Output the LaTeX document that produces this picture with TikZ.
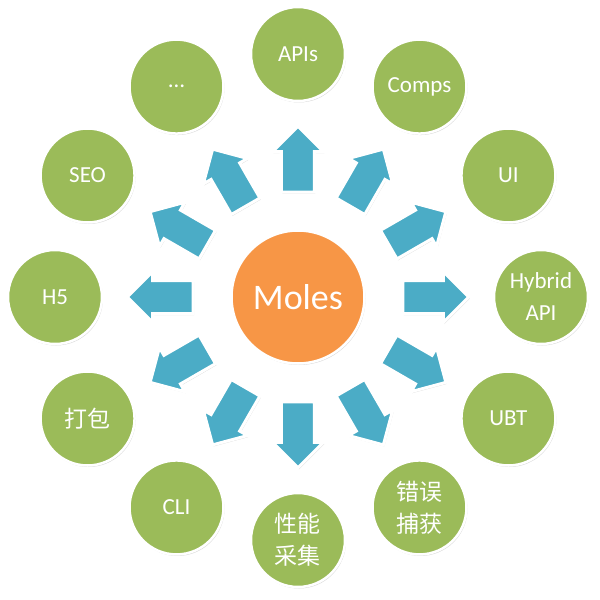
\documentclass[tikz,border=0pt]{standalone}
\usepackage{fontspec}
\setmainfont{Carlito}
\newfontfamily\cjk{Noto Sans CJK SC}
\usetikzlibrary{calc, positioning, shapes.arrows, shadows}
\definecolor{moleorange}{HTML}{F79646}
\definecolor{modgreen}{HTML}{9BBB59}
\definecolor{flowblue}{HTML}{4BACC6}

\begin{document}
\begin{tikzpicture}
		[x=1pt, y=1pt,
		soft/.style={drop shadow={opacity=0.3, shadow xshift=1pt, shadow yshift=-1.5pt}},
		hub/.style={circle, fill=moleorange, draw=white, line width=2.5pt, minimum size=133pt, text=white, font=\fontsize{36}{40}\selectfont, soft},
		module/.style={circle, fill=modgreen, draw=white, line width=2.5pt, minimum size=94pt, inner sep=0pt, text=white, align=center, font=\fontsize{23}{32}\selectfont, soft},
		flow/.style={single arrow, fill=flowblue, draw=white, line width=3pt, inner xsep=0pt, inner ysep=15pt, single arrow head extend=9pt, single arrow head indent=0pt, minimum height=66pt, soft}]
		\useasboundingbox (-298,-303) rectangle (302,297);
		% nodes %
		\node[hub] (moles) at (0,0) {Moles};
		\foreach \name [count=\i from 0] in {APIs, Comps, UI, {Hybrid\\API}, UBT, {{\cjk 错误}\\{\cjk 捕获}}, {{\cjk 性能}\\{\cjk 采集}}, CLI, {\cjk 打包}, H5, SEO, \dots}
			\node[module] (m\i) at ({90-30*\i}:243) {\name};

		% edges %
		\foreach \i in {0,...,11}
			\node[flow, rotate={90-30*\i}] (f\i) at ($(moles)!0.533!(m\i)$) {};
		\end{tikzpicture}
\end{document}
